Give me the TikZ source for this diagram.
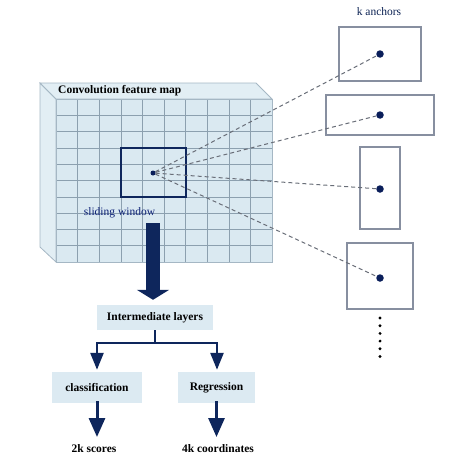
\documentclass[tikz,border=0pt]{standalone}
\usepackage{fontspec}
\setmainfont{Liberation Serif}
\usetikzlibrary{arrows.meta}
\definecolor{navy}{RGB}{14,38,92}
\definecolor{boxfill}{RGB}{220,234,242}
\definecolor{mapfill}{RGB}{218,233,241}
\definecolor{mapside}{RGB}{226,238,244}
\definecolor{mapedge}{RGB}{165,183,196}
\definecolor{gridc}{RGB}{140,160,175}
\definecolor{anchoredge}{RGB}{135,143,160}
\definecolor{dashc}{RGB}{105,110,120}
\definecolor{dotc}{RGB}{10,30,90}
\tikzset{
  every node/.style={font=\fontsize{11.5}{13}\selectfont},
  lbl/.style={font=\fontsize{11.5}{13}\selectfont\bfseries, text=black},
  stagebox/.style={fill=boxfill, draw=none, inner sep=0pt, font=\fontsize{11.5}{13}\selectfont\bfseries},
  anchorbox/.style={draw=anchoredge, line width=1.2pt, inner sep=0pt, fill=white},
  gridline/.style={draw=gridc, line width=0.6pt},
  ray/.style={draw=dashc, line width=1pt, dash pattern=on 4pt off 3pt},
  anchordot/.style={circle, fill=dotc, inner sep=0pt, minimum size=7.5pt},
  branch/.style={draw=navy, line width=2.6pt, -{Triangle[width=13pt,length=17pt]}},
  outarrow/.style={draw=navy, line width=3pt, -{Triangle[width=16pt,length=19pt]}},
}
\begin{document}
\begin{tikzpicture}[x=1pt,y=-1pt]
\useasboundingbox (0,0) rectangle (474,463);
% feature map block
\filldraw[fill=mapside, draw=mapedge, line width=0.8pt] (40,83) -- (56,99) -- (56,262) -- (40,247) -- cycle;
\filldraw[fill=mapside, draw=mapedge, line width=0.8pt] (40,83) -- (256,83) -- (272,99) -- (56,99) -- cycle;
\fill[mapfill] (56,99) rectangle (272,262);
\foreach \i in {1,...,9} \draw[gridline] ({56+21.6*\i},99) -- ({56+21.6*\i},262);
\foreach \j in {1,...,9} \draw[gridline] (56,{99+16.3*\j}) -- (272,{99+16.3*\j});
\draw[mapedge, line width=0.8pt] (56,99) rectangle (272,262);
\node[lbl, anchor=west, inner sep=0pt] (title) at (58,91) {Convolution feature map};
% sliding window
\node[draw=navy, line width=2pt, minimum width=65pt, minimum height=49pt, inner sep=0pt] (win) at (153.3,172.5) {};
\node[anchordot, minimum size=5pt] (c) at (153,173) {};
\node[text=navy!85!blue, inner sep=0pt] (swtext) at (119.5,213) {sliding window};
% anchors
\node[text=navy!90!black, inner sep=0pt] (kanch) at (379,12) {k anchors};
\node[anchorbox, minimum width=82pt, minimum height=54pt] (a1) at (380,54) {};
\node[anchorbox, minimum width=108pt, minimum height=40pt] (a2) at (380,115) {};
\node[anchorbox, minimum width=40pt, minimum height=82pt] (a3) at (380,188) {};
\node[anchorbox, minimum width=66pt, minimum height=66pt] (a4) at (380,276) {};
\foreach \n/\y in {d1/54,d2/115,d3/189,d4/278} \node[anchordot] (\n) at (380,\y) {};
\foreach \n in {d1,d2,d3,d4} \draw[ray] (c) -- (\n);
\foreach \k in {0,...,5} \fill[black] (380,{318+7.7*\k}) circle (1.6pt);
% processing stages
\coordinate (bigtop) at (153,223);
\node[stagebox, minimum width=116pt, minimum height=25pt] (inter) at (155,317.5) {Intermediate layers};
\draw[navy, line width=14pt, -{Triangle[width=32pt,length=10pt]}, shorten >=5pt] (bigtop) -- (bigtop |- inter.north);
\node[stagebox, minimum width=90pt, minimum height=31pt] (cls) at (97,387.5) {classification};
\node[stagebox, minimum width=77pt, minimum height=31pt] (reg) at (216.5,387.5) {Regression};
\coordinate (j) at (155,343);
\draw[navy, line width=2.6pt] (inter.south) -- (j);
\draw[branch, shorten >=2pt] (j) -| ([xshift=0pt]cls.north);
\draw[branch, shorten >=2pt] (j) -| ([xshift=0.5pt]reg.north);
\node[lbl, inner sep=0pt] (sc) at (94,449) {2k scores};
\node[lbl, inner sep=0pt] (co) at (218,449) {4k coordinates};
\draw[outarrow] ([yshift=2pt]cls.south) -- (cls.south |- 0,437);
\draw[outarrow] ([yshift=2pt]reg.south) -- (reg.south |- 0,437);
\end{tikzpicture}
\end{document}
